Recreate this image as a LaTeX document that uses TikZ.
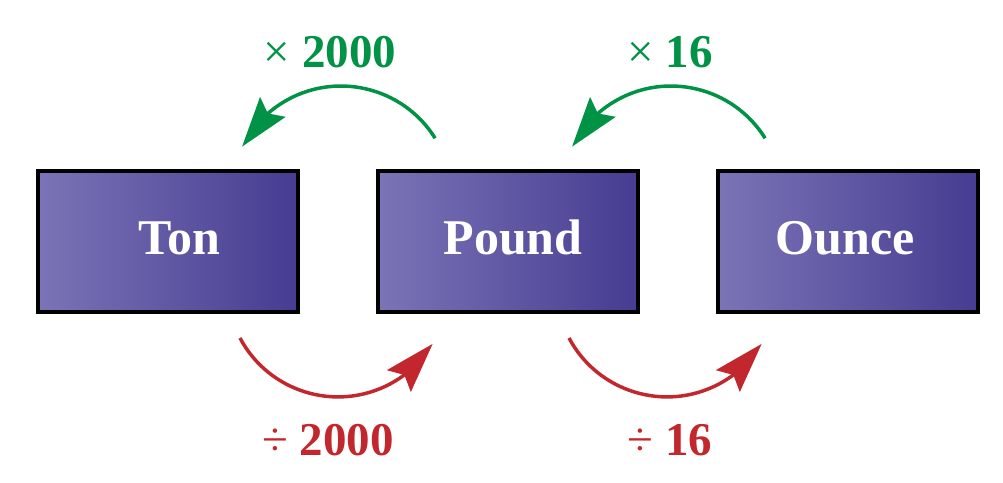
\documentclass[tikz,border=0pt]{standalone}
\usepackage{fontspec}
\setmainfont{Liberation Serif}
\usetikzlibrary{arrows.meta,bending}
\definecolor{boxL}{HTML}{7B74B6}
\definecolor{boxR}{HTML}{463C91}
\definecolor{grn}{HTML}{009245}
\definecolor{rd}{HTML}{C1272D}
\tikzset{
  unitbox/.style={draw=black, line width=4pt, left color=boxL, right color=boxR,
    minimum width=260pt, minimum height=141pt, inner sep=0pt, outer sep=0pt},
  boxtext/.style={anchor=base, text=white, font=\fontsize{50}{60}\selectfont\bfseries, inner sep=0pt},
  mullabel/.style={anchor=base, font=\fontsize{47}{56}\selectfont, inner sep=0pt},
  arc/.style={line width=3.5pt, -{Stealth[length=50pt,width=32pt,inset=8pt,flex]}}
}
\begin{document}
\begin{tikzpicture}[x=1pt,y=-1pt]
\useasboundingbox (0,0) rectangle (1003,482);
\node[unitbox] (ton) at (168,241.5) {};
\node[unitbox] (pound) at (508,241.5) {};
\node[unitbox] (ounce) at (848,241.5) {};
\node[boxtext] (tont) at (179,254) {Ton};
\node[boxtext] (poundt) at (513,254) {Pound};
\node[boxtext] (ouncet) at (845,254) {Ounce};
% green arcs
\coordinate (g1s) at (435.1,138.2);
\coordinate (g2s) at (765.1,138.2);
\draw[arc, grn] (g1s) arc[start angle=-32, end angle=-153, radius=111];
\draw[arc, grn] (g2s) arc[start angle=-32, end angle=-153, radius=111];
% red arcs
\coordinate (r1s) at (240,338);
\coordinate (r2s) at (569,338);
\draw[arc, rd] (r1s) arc[start angle=152, end angle=31.5, radius=111];
\draw[arc, rd] (r2s) arc[start angle=152, end angle=31.5, radius=111];
% labels
\node[mullabel, text=grn] (l1) at (330,67) {× \textbf{2000}};
\node[mullabel, text=grn] (l2) at (670,67) {× \textbf{16}};
\node[mullabel, text=rd] (l3) at (328,455) {÷ \textbf{2000}};
\node[mullabel, text=rd] (l4) at (670,455) {÷ \textbf{16}};
\end{tikzpicture}
\end{document}
